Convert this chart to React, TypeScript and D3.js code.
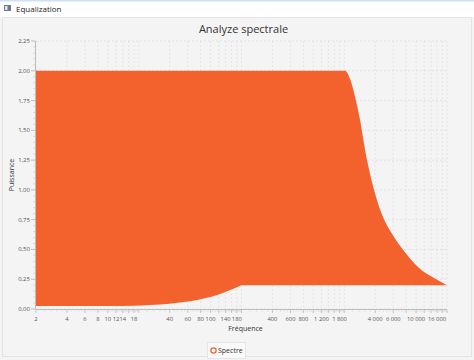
import React from 'react';
import * as d3 from 'd3';

// Upper boundary of the spectrum (frequency Hz -> power)
const upperFreq = [2, 100, 1000, 1800, 2040, 2280, 2550, 2860, 3190, 3740, 4780, 6000, 7500, 10500, 16000, 20000];
const upperPow = [2, 2, 2, 2, 2.0, 1.93, 1.78, 1.58, 1.335, 1.06, 0.77, 0.615, 0.495, 0.35, 0.245, 0.2];

// Lower boundary of the spectrum: rising part, then flat part
const lowerRiseFreq = [2, 10, 18, 26, 40, 63, 88, 118, 155, 200];
const lowerRisePow = [0.025, 0.025, 0.027, 0.033, 0.045, 0.065, 0.09, 0.12, 0.16, 0.2];
const lowerFlatFreq = [200, 20000];
const lowerFlatPow = [0.2, 0.2];

const xMajorTicks = [2, 4, 6, 8, 10, 12, 14, 16, 18, 20, 40, 60, 80, 100, 120, 140, 160, 180, 200, 400, 600, 800, 1000, 1200, 1400, 1600, 1800, 2000, 4000, 6000, 8000, 10000, 12000, 14000, 16000, 18000, 20000];
const xLabelTicks = [2, 4, 6, 8, 10, 12, 14, 18, 40, 60, 80, 100, 140, 180, 400, 600, 800, 1200, 1800, 4000, 6000, 10000, 16000];
const yTicks = [0, 0.25, 0.5, 0.75, 1, 1.25, 1.5, 1.75, 2, 2.25];

const windowTitle = 'Equalization';
const chartTitle = 'Analyze spectrale';
const xTitle = 'Fréquence';
const yTitle = 'Puissance';
const seriesName = 'Spectre';

const W = 474;
const H = 360;
const M = { left: 36, right: 447, top: 41, bottom: 309 };
const ORANGE = '#f3622d';
const FONT = '"Open Sans", "Noto Sans", sans-serif';

const frLocale = d3.formatLocale({ decimal: ',', thousands: '\u00a0', grouping: [3], currency: ['', ' €'] });
const fmtX = frLocale.format(',d');
const fmtY = frLocale.format('.2f');

type P = [number, number];
const zip = (a: number[], b: number[]): P[] => a.map((v, i) => [v, b[i]] as P);

export default function App() {
  const x = d3.scaleLog().domain([2, 20000]).range([M.left, M.right]);
  const y = d3.scaleLinear().domain([0, 2.25]).range([M.bottom, M.top]);

  const upper = zip(upperFreq, upperPow);
  const lowerRise = zip(lowerRiseFreq, lowerRisePow);
  const lowerFlat = zip(lowerFlatFreq, lowerFlatPow);

  // Region under the upper curve (used as clip)
  const underUpper = d3.area<P>()
    .x(d => x(d[0]))
    .y0(y(-0.5))
    .y1(d => y(d[1]))
    .curve(d3.curveMonotoneX)(upper) || '';

  // Region above the lower curve (single path => no seam)
  const aboveRise = d3.area<P>()
    .x(d => x(d[0]))
    .y0(y(3))
    .y1(d => y(d[1]))
    .curve(d3.curveMonotoneX)(lowerRise) || '';
  const aboveFlat = d3.area<P>()
    .x(d => x(d[0]))
    .y0(y(3))
    .y1(d => y(d[1]))
    .curve(d3.curveLinear)(lowerFlat) || '';

  const xMinor: number[] = [];
  for (let i = 0; i < xMajorTicks.length - 1; i++) {
    const a = xMajorTicks[i], b = xMajorTicks[i + 1];
    for (let k = 1; k < 5; k++) xMinor.push(a + (b - a) * k / 5);
  }
  const yMinor: number[] = [];
  for (let i = 0; i < yTicks.length - 1; i++) {
    const a = yTicks[i], b = yTicks[i + 1];
    for (let k = 1; k < 5; k++) yMinor.push(a + (b - a) * k / 5);
  }

  const lx = 207, ly = 342;

  return (
    <svg width={W} height={H} style={{ position: 'fixed', left: 0, top: 0, display: 'block' }} fontFamily={FONT}>
      <rect x={0} y={0} width={W} height={H} fill="#f4f4f4" />
      <rect x={0} y={0} width={W} height={17} fill="#ffffff" />
      <rect x={0} y={0} width={W} height={1.5} fill="#cfe2f5" />
      <rect x={4} y={5} width={7} height={6} fill="#6d7b8a" />
      <rect x={5} y={6} width={2.5} height={4} fill="#dfe6ee" />
      <text x={16} y={12} fontSize={8} fill="#222">{windowTitle}</text>
      <rect x={2.5} y={17.5} width={W - 5} height={H - 21} fill="none" stroke="#e4e4e4" />

      <text x={(M.left + M.right) / 2 + 2} y={33} fontSize={11} textAnchor="middle" fill="#333">{chartTitle}</text>

      {/* grid */}
      {yTicks.map(t => (
        <line key={'gy' + t} x1={M.left} x2={M.right} y1={y(t)} y2={y(t)} stroke="#dedede" strokeWidth={0.8} strokeDasharray="2,2" />
      ))}
      {xMajorTicks.map(t => (
        <line key={'gx' + t} x1={x(t)} x2={x(t)} y1={M.top} y2={M.bottom} stroke="#e0e0e0" strokeWidth={0.8} strokeDasharray="2,2" />
      ))}

      {/* area: between upper and lower curves */}
      <defs>
        <clipPath id="underUpper">
          <path d={underUpper} />
        </clipPath>
      </defs>
      <g clipPath="url(#underUpper)">
        <path d={aboveRise + aboveFlat} fill={ORANGE} />
      </g>

      {/* y axis */}
      <line x1={M.left - 0.5} x2={M.left - 0.5} y1={M.top} y2={M.bottom} stroke="#b0b0b0" strokeWidth={0.8} />
      {yTicks.map(t => (
        <g key={'yt' + t}>
          <line x1={M.left - 5} x2={M.left - 0.5} y1={y(t)} y2={y(t)} stroke="#b0b0b0" strokeWidth={0.8} />
          <text x={M.left - 6} y={y(t) + 2} fontSize={6} textAnchor="end" fill="#555">{fmtY(t)}</text>
        </g>
      ))}
      {yMinor.map((t, i) => (
        <line key={'ym' + i} x1={M.left - 3} x2={M.left - 0.5} y1={y(t)} y2={y(t)} stroke="#c8c8c8" strokeWidth={0.6} />
      ))}

      {/* x axis */}
      <line x1={M.left} x2={M.right} y1={M.bottom + 0.5} y2={M.bottom + 0.5} stroke="#b0b0b0" strokeWidth={0.8} />
      {xMajorTicks.map(t => (
        <line key={'xt' + t} x1={x(t)} x2={x(t)} y1={M.bottom + 0.5} y2={M.bottom + 4} stroke="#b0b0b0" strokeWidth={0.7} />
      ))}
      {xMinor.map((t, i) => (
        <line key={'xm' + i} x1={x(t)} x2={x(t)} y1={M.bottom + 0.5} y2={M.bottom + 2.5} stroke="#cccccc" strokeWidth={0.5} />
      ))}
      {xLabelTicks.map(t => (
        <text key={'xl' + t} x={x(t)} y={M.bottom + 12} fontSize={5.8} textAnchor="middle" fill="#555">{fmtX(t)}</text>
      ))}

      <text x={(M.left + M.right) / 2 + 4} y={331} fontSize={7} textAnchor="middle" fill="#333">{xTitle}</text>
      <text transform={`translate(14,${(M.top + M.bottom) / 2}) rotate(-90)`} fontSize={7} textAnchor="middle" fill="#333">{yTitle}</text>

      {/* legend */}
      <rect x={lx + 0.5} y={ly + 0.5} width={38} height={16} fill="#f9f9f9" stroke="#e2e2e2" strokeWidth={0.8} />
      <circle cx={lx + 6.5} cy={ly + 8.5} r={2.6} fill="#ffffff" stroke={ORANGE} strokeWidth={1.3} />
      <text x={lx + 11} y={ly + 11} fontSize={7} fill="#333">{seriesName}</text>
    </svg>
  );
}
